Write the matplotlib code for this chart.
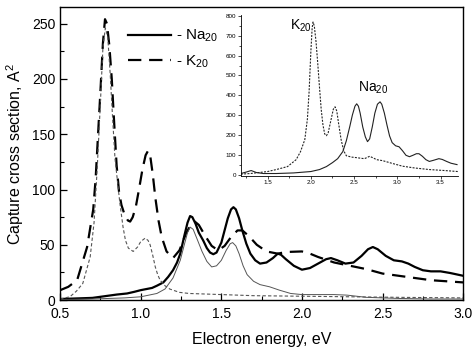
import numpy as np
import matplotlib.pyplot as plt
from matplotlib.ticker import MultipleLocator

plt.rcParams['font.family'] = ['Liberation Sans', 'DejaVu Sans']
plt.rcParams['mathtext.fontset'] = 'custom'
plt.rcParams['mathtext.rm'] = 'Liberation Sans'
plt.rcParams['mathtext.it'] = 'Liberation Sans'

# main panel: Na20 (thick solid)
na_x = [0.5, 0.6, 0.7, 0.75, 0.8, 0.85, 0.915, 0.96, 1.0, 1.07, 1.1, 1.14, 1.17, 1.2, 1.225,
        1.245, 1.27, 1.29, 1.306, 1.32, 1.34, 1.36, 1.387, 1.41, 1.43, 1.45, 1.47, 1.5, 1.52,
        1.54, 1.56, 1.575, 1.59, 1.61, 1.63, 1.655, 1.68, 1.71, 1.74, 1.78, 1.82, 1.85, 1.87,
        1.9, 1.95, 2.0, 2.05, 2.1, 2.15, 2.18, 2.22, 2.27, 2.32, 2.37, 2.41, 2.44, 2.47, 2.52,
        2.57, 2.62, 2.66, 2.7, 2.75, 2.8, 2.86, 2.92, 3.0]
na_y = [1, 1.5, 2, 3, 4, 5, 6, 7.5, 9, 11, 13, 16, 21, 27, 34, 42, 58, 70, 76, 75, 69, 61, 54,
        47, 43, 41.5, 43, 52, 63, 74, 82, 84, 82, 74, 63, 51, 42, 36, 33, 34, 38, 42, 41, 37,
        31, 27.5, 29, 33, 37, 38, 36, 33, 34, 40, 46, 48, 46, 40, 36, 35, 33, 30, 27, 26, 26,
        24.5, 22]

# main panel: K20 (thick dashed)
k_x = [0.5, 0.55, 0.605, 0.667, 0.705, 0.72, 0.735, 0.75, 0.765, 0.778, 0.79, 0.805, 0.82,
       0.835, 0.85, 0.865, 0.88, 0.9, 0.92, 0.934, 0.95, 0.97, 0.99, 1.01, 1.03, 1.045, 1.06,
       1.075, 1.09, 1.11, 1.13, 1.16, 1.2, 1.24, 1.28, 1.31, 1.335, 1.36, 1.4, 1.44, 1.48,
       1.52, 1.56, 1.6, 1.63, 1.67, 1.72, 1.78, 1.85, 1.9, 2.0, 2.05, 2.1, 2.2, 2.3, 2.4, 2.5,
       2.6, 2.7, 2.8, 2.9, 3.0]
k_y = [9, 12, 18, 48, 82, 110, 150, 190, 232, 254, 250, 230, 200, 160, 122, 98, 86, 77, 72, 71,
       75, 85, 101, 118, 131, 135, 129, 113, 93, 72, 57, 44, 38, 45, 60, 68, 71, 68, 58, 49,
       45, 49, 57, 63, 63, 58, 50, 44, 42, 43.5, 44, 42, 39, 34, 31, 28, 24, 22, 20, 18, 17,
       16]

# main panel: thin solid (Na related)
na2_x = [0.5, 0.7, 0.9, 1.0, 1.1, 1.15, 1.2, 1.245, 1.27, 1.29, 1.306, 1.325, 1.35, 1.38, 1.41,
         1.44, 1.47, 1.5, 1.53, 1.555, 1.57, 1.59, 1.61, 1.635, 1.66, 1.7, 1.74, 1.8, 1.86,
         1.93, 2.0, 2.1, 2.2, 2.28, 2.4, 2.6, 2.8, 3.0]
na2_y = [0.5, 1, 2, 3, 6, 10, 20, 36, 50, 61, 66, 64, 55, 44, 35, 30, 31, 36, 45, 51, 52, 49,
         42, 31, 23, 17, 14, 12, 9, 6, 5, 5, 5, 4.5, 2.5, 1.5, 1, 1]

# main panel: thin short dashed (K related)
k2_x = [0.5, 0.56, 0.6, 0.64, 0.686, 0.71, 0.73, 0.75, 0.765, 0.78, 0.795, 0.81, 0.825, 0.84,
        0.855, 0.87, 0.89, 0.905, 0.923, 0.953, 0.98, 1.0, 1.027, 1.045, 1.058, 1.075, 1.09,
        1.105, 1.12, 1.15, 1.18, 1.24, 1.3, 1.5, 1.7, 2.0, 2.3, 2.6, 3.0]
k2_y = [1, 3, 8, 15, 39, 70, 120, 180, 228, 246, 238, 205, 165, 128, 108, 88, 66, 54, 47, 44,
        48, 53, 56, 54, 50, 40, 30, 23, 18, 13, 10, 7, 6, 5, 4, 3.5, 3, 2.5, 2]

# inset: Na20 and K20 over a wider range
ina_x = [1.19, 1.25, 1.31, 1.37, 1.45, 1.6, 1.8, 2.0, 2.1, 2.18, 2.25, 2.31, 2.37, 2.41, 2.45,
         2.48, 2.51, 2.53, 2.55, 2.57, 2.6, 2.63, 2.655, 2.68, 2.71, 2.74, 2.77, 2.8, 2.82,
         2.85, 2.88, 2.91, 2.94, 2.98, 3.02, 3.06, 3.1, 3.14, 3.18, 3.22, 3.25, 3.29, 3.33,
         3.37, 3.42, 3.48, 3.52, 3.57, 3.62, 3.69]
ina_y = [5, 12, 20, 10, 5, 5, 8, 15, 25, 40, 60, 80, 116, 170, 242, 300, 345, 357, 345, 310,
         240, 190, 166, 180, 240, 310, 355, 367, 355, 310, 250, 195, 161, 145, 140, 120, 97,
         90, 97, 105, 105, 92, 75, 66, 72, 80, 76, 66, 57, 50]
ik_x = [1.19, 1.3, 1.4, 1.5, 1.6, 1.73, 1.83, 1.88, 1.93, 1.96, 1.98, 2.0, 2.015, 2.025, 2.04,
        2.06, 2.08, 2.1, 2.12, 2.14, 2.16, 2.18, 2.2, 2.23, 2.26, 2.28, 2.3, 2.32, 2.35, 2.38,
        2.41, 2.47, 2.53, 2.58, 2.62, 2.68, 2.72, 2.76, 2.83, 2.95, 3.06, 3.2, 3.37, 3.55, 3.7]
ik_y = [2, 5, 10, 15, 25, 40, 75, 115, 176, 280, 420, 620, 740, 770, 750, 670, 560, 440, 327,
        250, 205, 196, 210, 270, 330, 342, 320, 260, 176, 120, 95, 88, 85, 82, 80, 92, 84, 75,
        70, 55, 42, 33, 25, 20, 15]

fig = plt.figure(figsize=(4.74, 3.51), dpi=100)
ax = fig.add_axes([0.127, 0.145, 0.85, 0.835])

ax.plot(na_x, na_y, color='black', lw=1.6, label='- Na$_{20}$')
ax.plot(k_x, k_y, color='black', lw=1.6, dashes=(6, 3.5), label='- K$_{20}$')
ax.plot(na2_x, na2_y, color='#555555', lw=0.7)
ax.plot(k2_x, k2_y, color='#555555', lw=0.8, dashes=(3, 2))

ax.set_xlim(0.5, 3.0)
ax.set_ylim(0, 265)
ax.xaxis.set_major_locator(MultipleLocator(0.5))
ax.xaxis.set_minor_locator(MultipleLocator(0.25))
ax.yaxis.set_major_locator(MultipleLocator(50))
ax.yaxis.set_minor_locator(MultipleLocator(25))
ax.tick_params(which='both', direction='in', labelsize=10)
ax.tick_params(which='major', length=5, width=0.9)
ax.tick_params(which='minor', length=3, width=0.8)
ax.tick_params(axis='x', pad=5)
ax.set_xticks([0.5, 1.0, 1.5, 2.0, 2.5, 3.0])
ax.set_xticklabels(['0.5', '1.0', '1.5', '2.0', '2.5', '3.0'])
for s in ax.spines.values():
    s.set_linewidth(1.0)
ax.set_xlabel('Electron energy, eV', fontsize=11.5, labelpad=8)
ax.set_ylabel('Capture cross section, A$^2$', fontsize=11.5, labelpad=4)

ax.legend(loc='upper left', bbox_to_anchor=(0.135, 0.975), frameon=False, fontsize=11,
          handlelength=2.8, handletextpad=0.3, labelspacing=0.6)

ins = fig.add_axes([0.508, 0.50, 0.458, 0.457])
ins.plot(ina_x, ina_y, color='#222222', lw=0.8)
ins.plot(ik_x, ik_y, color='#222222', lw=0.8, dashes=(1.8, 1.2))
ins.set_xlim(1.19, 3.7)
ins.set_ylim(-5, 805)
ins.spines['top'].set_visible(False)
ins.spines['right'].set_visible(False)
for s in ['left', 'bottom']:
    ins.spines[s].set_linewidth(0.6)
ins.xaxis.set_major_locator(MultipleLocator(0.5))
ins.xaxis.set_minor_locator(MultipleLocator(0.25))
ins.yaxis.set_major_locator(MultipleLocator(100))
ins.yaxis.set_minor_locator(MultipleLocator(50))
ins.tick_params(which='both', direction='out', labelsize=4.5, width=0.5, pad=1.5)
ins.tick_params(which='major', length=2)
ins.tick_params(which='minor', length=1.2)
ins.patch.set_alpha(0)
ins.text(1.76, 730, 'K$_{20}$', fontsize=10)
ins.text(2.55, 420, 'Na$_{20}$', fontsize=10)

fig.savefig('out.png', dpi=100)
